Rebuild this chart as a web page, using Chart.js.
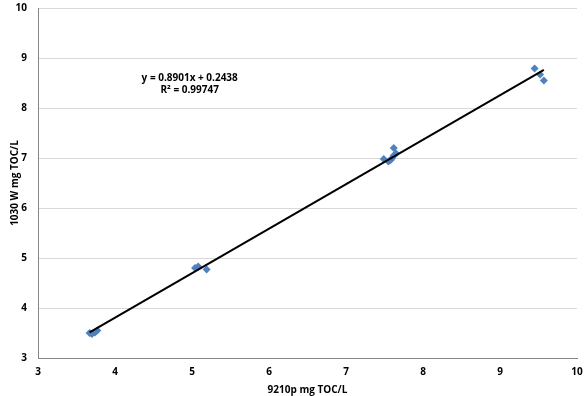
<!DOCTYPE html>
<html>
<head>
<meta charset="utf-8">
<script src="https://cdn.jsdelivr.net/npm/chart.js@4.4.0/dist/chart.umd.min.js"></script>
<style>
  html, body { margin: 0; padding: 0; background: #fff; }
  #wrap { width: 586px; height: 396px; }
</style>
</head>
<body>
<div id="wrap"><canvas id="c"></canvas></div>
<script>
// measured pairs, 9210p (x) vs 1030 W (y), mg TOC/L
var xVals = [3.67, 3.70, 3.74, 3.77, 5.04, 5.08, 5.19, 7.49, 7.55, 7.58, 7.60, 7.62, 7.62, 7.65, 9.45, 9.52, 9.57];
var yVals = [3.50, 3.48, 3.51, 3.55, 4.80, 4.83, 4.77, 6.98, 6.93, 6.96, 7.00, 7.05, 7.20, 7.09, 8.79, 8.67, 8.55];
var slope = 0.8901;
var intercept = 0.2438;
var r2 = "0.99747";
var xTicks = [3, 4, 5, 6, 7, 8, 9, 10];
var yTicks = [3, 4, 5, 6, 7, 8, 9, 10];

var pts = xVals.map(function (x, i) { return { x: x, y: yVals[i] }; });
var xMin = Math.min.apply(null, xVals), xMax = Math.max.apply(null, xVals);
var fit = [
  { x: xMin, y: slope * xMin + intercept },
  { x: xMax, y: slope * xMax + intercept }
];

var FONT = "'Open Sans', 'Liberation Sans', sans-serif";

var eqLabel = {
  id: "eqLabel",
  afterDatasetsDraw: function (chart) {
    var c = chart.ctx, xs = chart.scales.x, ys = chart.scales.y;
    var cx = xs.getPixelForValue(4.97);
    c.save();
    c.fillStyle = "#000";
    c.font = "bold 10px " + FONT;
    c.textAlign = "center";
    c.textBaseline = "middle";
    c.fillText("y = " + slope + "x + " + intercept, cx, ys.getPixelForValue(8.6));
    c.fillText("R\u00b2 = " + r2, cx, ys.getPixelForValue(8.36));
    c.restore();
  }
};

new Chart(document.getElementById("c"), {
  type: "scatter",
  data: {
    datasets: [
      {
        data: pts,
        pointStyle: "rectRot",
        pointRadius: 4,
        pointHoverRadius: 4,
        backgroundColor: "#4F81BD",
        borderColor: "#4F81BD",
        borderWidth: 0,
        order: 2
      },
      {
        type: "line",
        data: fit,
        borderColor: "#000",
        borderWidth: 2,
        pointRadius: 0,
        fill: false,
        order: 1
      }
    ]
  },
  options: {
    responsive: true,
    maintainAspectRatio: false,
    animation: false,
    layout: { padding: { left: 0, right: 9, top: 8, bottom: 0 } },
    plugins: { legend: { display: false }, tooltip: { enabled: false } },
    scales: {
      x: {
        type: "linear",
        min: 3, max: 10,
        afterBuildTicks: function (s) { s.ticks = xTicks.map(function (v) { return { value: v }; }); },
        afterFit: function (s) { s.height = 38; s.paddingLeft = 0; s.paddingRight = 0; },
        grid: { display: false, drawTicks: false },
        border: { color: "#868686", width: 1 },
        ticks: { color: "#000", font: { family: FONT, size: 10, weight: "bold" }, padding: 8, maxRotation: 0 },
        title: { display: true, text: "9210p mg TOC/L", color: "#000", font: { family: FONT, size: 10, weight: "bold" }, padding: { top: 2, bottom: 0 } }
      },
      y: {
        type: "linear",
        min: 3, max: 10,
        afterBuildTicks: function (s) { s.ticks = yTicks.map(function (v) { return { value: v }; }); },
        afterFit: function (s) { s.width = 38; s.paddingTop = 0; s.paddingBottom = 0; },
        grid: { color: "#D9D9D9", lineWidth: 1, drawTicks: false },
        border: { color: "#868686", width: 1 },
        ticks: { color: "#000", font: { family: FONT, size: 10, weight: "bold" }, padding: 11 },
        title: { display: true, text: "1030 W mg TOC/L", color: "#000", font: { family: FONT, size: 10, weight: "bold" }, padding: { top: 9, bottom: 0 } }
      }
    }
  },
  plugins: [eqLabel]
});
</script>
</body>
</html>
